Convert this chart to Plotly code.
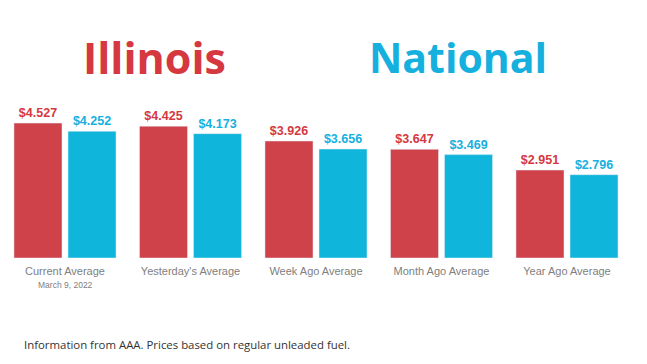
import plotly.graph_objects as go

categories = ["Current Average", "Yesterday's Average", "Week Ago Average",
              "Month Ago Average", "Year Ago Average"]
illinois = [4.527, 4.425, 3.926, 3.647, 2.951]
national = [4.252, 4.173, 3.656, 3.469, 2.796]
date_note = "March 9, 2022"
footer = "Information from AAA. Prices based on regular unleaded fuel."

RED = "#CF424A"
BLUE = "#10B5DB"
RED_TXT = "#D5383F"
BLUE_TXT = "#16B0DF"

# page body has an 8px margin, so layout positions are shifted by OFF
OFF = 8
W, H = 647, 364
L, R = 0, 20
BASE = 258 - OFF            # baseline of bars in figure pixels
T = 109 - OFF
B = H - BASE
PW, PH = W - L - R, H - T - B
CAT_PX = 125.5              # pixels per category
FIRST_CENTER = 65 - OFF
x0 = -(FIRST_CENTER - L) / CAT_PX
x1 = x0 + PW / CAT_PX


def px(x):
    return (x - OFF - L) / PW


def py(y):
    return (H - B - (y - OFF)) / PH


fig = go.Figure()
fig.add_trace(go.Bar(
    x=categories, y=illinois, name="Illinois", marker_color=RED,
    text=[f"<b>${v:.3f}</b>" for v in illinois], textposition="outside",
    textfont=dict(family="Liberation Sans", size=12.5, color=RED_TXT),
    cliponaxis=False, hoverinfo="skip"))
fig.add_trace(go.Bar(
    x=categories, y=national, name="National", marker_color=BLUE,
    text=[f"<b>${v:.3f}</b>" for v in national], textposition="outside",
    textfont=dict(family="Liberation Sans", size=12.5, color=BLUE_TXT),
    cliponaxis=False, hoverinfo="skip"))

fig.update_layout(
    width=W, height=H,
    margin=dict(l=L, r=R, t=T, b=B, autoexpand=False),
    paper_bgcolor="white", plot_bgcolor="white",
    barmode="group", bargap=0.139, bargroupgap=0.111,
    showlegend=False,
    uniformtext=dict(minsize=8, mode="show"),
    xaxis=dict(showgrid=False, zeroline=False, showline=False, ticks="",
               range=[x0, x1],
               tickfont=dict(family="Liberation Sans", size=11, color="#808080"),
               ticklabelstandoff=5, automargin=False),
    yaxis=dict(visible=False, range=[0, (BASE - T) / 29.8], automargin=False),
)

ann = [
    dict(text="<b>Illinois</b>", x=px(154), y=py(57),
         font=dict(family="Open Sans", size=43, color=RED_TXT)),
    dict(text="<b>National</b>", x=px(458), y=py(57),
         font=dict(family="Open Sans", size=41, color=BLUE_TXT)),
    dict(text=date_note, x=px(65), y=py(285),
         font=dict(family="Liberation Sans", size=8.5, color="#808080")),
]
for a in ann:
    fig.add_annotation(xref="paper", yref="paper", xanchor="center", yanchor="middle",
                       showarrow=False, **a)
fig.add_annotation(text=footer, xref="paper", yref="paper", x=px(22), y=py(344),
                   xanchor="left", yanchor="middle", showarrow=False,
                   font=dict(family="Open Sans", size=11.4, color="#333333"))

fig.write_html("out.html")
